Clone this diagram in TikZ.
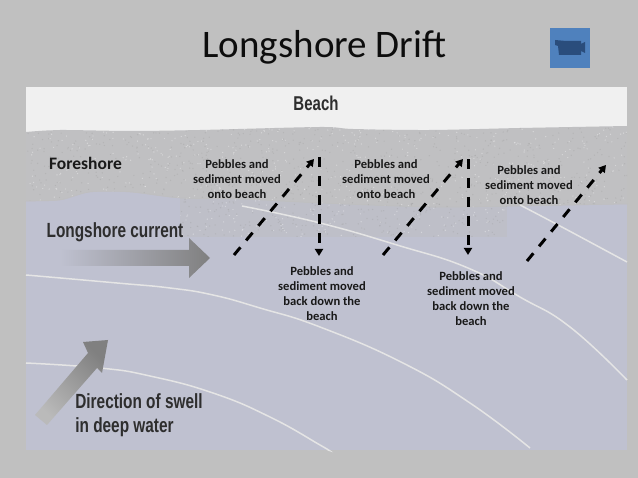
\documentclass[tikz,border=0pt]{standalone}
\usepackage{fontspec}
\setmainfont{Carlito}
\newfontfamily\photofont{Liberation Sans}
\definecolor{slidegrey}{RGB}{192, 192, 192}
\definecolor{stripwhite}{RGB}{240, 240, 240}
\definecolor{sandgrey}{RGB}{192, 192, 194}
\definecolor{wetsand}{RGB}{190, 191, 200}
\definecolor{waterblue}{RGB}{191, 193, 208}
\definecolor{iconblue}{RGB}{79, 129, 189}
\definecolor{icondark}{RGB}{42, 77, 124}
\usetikzlibrary{arrows.meta}
\tikzset{
    every node/.style={transform shape},
    callout/.style={font=\fontsize{12.6}{15}\selectfont\bfseries, align=center,
        text=black!90},
    photolabel/.style={font=\fontsize{#1}{24}\selectfont\photofont\bfseries,
        text=black!82, xscale=0.75, align=left},
    swash/.style={draw=white!90!black, line width=1.5pt},
    driftline/.style={line width=3pt, black, dash pattern=on 10pt off 9pt,
        -{Triangle[length=7pt, width=8pt]}},
}

\begin{document}
\begin{tikzpicture}[x=1pt, y=-1pt]
    \fill[slidegrey] (0, 0) rectangle (638, 478);
    \useasboundingbox (0, 0) rectangle (638, 478);
    \node[font=\fontsize{39}{44}\selectfont, text=black!95] (title) at (324.5, 47)
        {Longshore Drift};

    % camera button
    \fill[iconblue] (550, 28) rectangle (590, 68);
    \fill[icondark] (555, 40) -- (566, 41) -- (581, 41) -- (581, 44) -- (585, 42)
        -- (585, 53) -- (581, 51) -- (581, 55) -- (559, 55) -- (558, 46) -- (555, 45)
        -- cycle;

    % photo
    \fill[stripwhite] (26, 87) rectangle (627, 450);
    \fill[waterblue] (26, 190) rectangle (627, 450);
    \fill[wetsand] (180, 198) rectangle (507, 237);
    \fill[sandgrey] plot[smooth, tension=0.5] coordinates {(26, 132) (60, 130)
        (130, 131) (200, 130) (320, 127) (353, 129) (430, 130) (520, 128) (627, 126)}
        -- plot[smooth, tension=0.5] coordinates {(627, 204) (520, 206) (430, 207)
        (320, 203) (240, 199) (180, 198) (130, 192) (90, 192) (60, 200) (26, 201)}
        -- cycle;
    \begin{scope}
        \clip plot[smooth, tension=0.5] coordinates {(26, 132) (60, 130)
        (130, 131) (200, 130) (320, 127) (353, 129) (430, 130) (520, 128) (627, 126)}
        -- (627, 204) -- (507, 206) -- (507, 237) -- (180, 237)
        -- (180, 198) -- (130, 192) -- (90, 192) -- (60, 200) -- (26, 201) -- cycle;
        \pgfmathsetseed{41}
        \foreach \speck in {1, ..., 1100} {
            \pgfmathsetmacro{\speckx}{26 + 601 * rnd}
            \pgfmathsetmacro{\specky}{126 + 111 * rnd}
            \fill[black!40, opacity=0.3] (\speckx, \specky) circle (0.7pt);
        }
        \foreach \speck in {1, ..., 700} {
            \pgfmathsetmacro{\speckx}{26 + 601 * rnd}
            \pgfmathsetmacro{\specky}{126 + 111 * rnd}
            \fill[white, opacity=0.35] (\speckx, \specky) circle (0.7pt);
        }
    \end{scope}
    \draw[black!25, line width=0.5pt] plot[smooth] coordinates {(26, 201) (60, 200)
        (90, 192) (130, 192) (180, 198) (240, 199) (320, 203) (430, 207) (520, 206)
        (627, 204)};

    % wave crests
    \draw[swash] plot[smooth, tension=0.8] coordinates {(242, 206) (320, 223)
        (397, 245) (468, 268) (520, 297) (570, 327) (627, 380)};
    \draw[swash] plot[smooth, tension=0.8] coordinates {(26, 275) (117, 283) (170, 288)
        (213, 295) (260, 308) (320, 327) (403, 363) (470, 403) (530, 448)};
    \draw[swash] plot[smooth, tension=0.8] coordinates {(26, 363) (100, 368) (150, 376)
        (213, 393) (270, 417) (320, 445) (328, 450)};
    \draw[swash] plot[smooth, tension=0.8] coordinates {(520, 205) (560, 226) (627, 262)};

    % grey arrows of the photo
    \shade[left color=waterblue, right color=black!50] (60, 250) -- (189, 250)
        -- (189, 238) -- (210, 258) -- (189, 278) -- (189, 266) -- (60, 266) -- cycle;
    \shade[bottom color=black!27, top color=black!50, shading angle=-45] (35, 415)
        -- (88, 353) -- (83, 342) -- (108, 340) -- (102, 373) -- (97, 368) -- (47, 425)
        -- cycle;

    \node[photolabel=20] (beach) at (316, 103) {Beach};
    \node[photolabel=20.5] (current) at (115, 232) {Longshore current};
    \node[photolabel=20.5] (swell) at (139, 415) {Direction of swell\\in deep water};
    \node[font=\fontsize{17.5}{20}\selectfont\bfseries, text=black!90] (foreshore)
        at (85.5, 163) {Foreshore};

    \node[callout] (ontoa) at (237, 179) {Pebbles and\\sediment moved\\onto beach};
    \node[callout] (ontob) at (386, 179) {Pebbles and\\sediment moved\\onto beach};
    \node[callout] (ontoc) at (529, 185) {Pebbles and\\sediment moved\\onto beach};
    \node[callout] (backa) at (322, 293.5)
        {Pebbles and\\sediment moved\\back down the\\beach};
    \node[callout] (backb) at (471, 298.5)
        {Pebbles and\\sediment moved\\back down the\\beach};

    \coordinate (upafoot) at (234, 255);
    \coordinate (upatip) at (314, 159);
    \coordinate (upbfoot) at (383, 255);
    \coordinate (upbtip) at (463, 159);
    \coordinate (upcfoot) at (527, 261);
    \coordinate (upctip) at (606, 165);
    \coordinate (downatop) at (319, 157);
    \coordinate (downaend) at (319, 256);
    \coordinate (downbtop) at (468, 159);
    \coordinate (downbend) at (468, 255);
    \draw[driftline] (upafoot) -- (upatip);
    \draw[driftline] (upbfoot) -- (upbtip);
    \draw[driftline] (upcfoot) -- (upctip);
    \draw[driftline] (downatop) -- (downaend);
    \draw[driftline] (downbtop) -- (downbend);
\end{tikzpicture}
\end{document}
